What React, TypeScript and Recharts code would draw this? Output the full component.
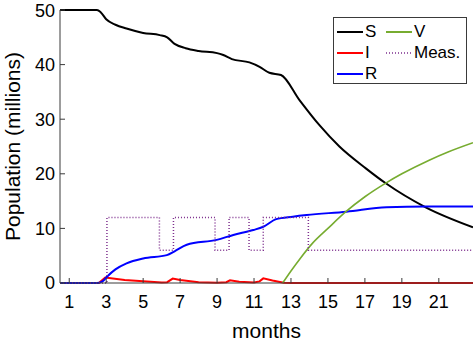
import { LineChart, Line, XAxis, YAxis, Legend } from 'recharts';

const monthTicks = [1, 3, 5, 7, 9, 11, 13, 15, 17, 19, 21];
const popTicks = [0, 10, 20, 30, 40, 50];

const sMonths = [0.5, 2.5, 2.7, 3.0, 3.5, 4.1, 5.0, 5.9, 6.3, 6.7, 7.3, 8.0, 9.0, 9.3, 9.8, 10.75, 11.3, 11.83, 12.46, 13.46, 14.54, 15.62, 17.05, 18.13, 20.29, 22.85];
const sValues = [50, 50, 49.6, 48.3, 47.3, 46.6, 45.8, 45.4, 45.0, 43.8, 43.0, 42.5, 42.1, 41.8, 41.0, 40.4, 39.6, 38.5, 38.1, 33.5, 28.9, 25.0, 21.0, 18.26, 13.86, 10.2];

const iMonths = [0.5, 2.6, 2.95, 4.0, 5.0, 6.0, 6.3, 6.6, 7.0, 8.0, 9.0, 9.5, 9.7, 10.2, 11.0, 11.3, 11.5, 12.0, 12.6, 13.0, 22.85];
const iValues = [0, 0, 1.0, 0.55, 0.3, 0.1, 0.15, 0.8, 0.55, 0.15, 0.05, 0.15, 0.5, 0.25, 0.1, 0.3, 0.85, 0.45, 0.05, 0, 0];

const rMonths = [0.5, 2.5, 2.8, 3.04, 3.5, 4.1, 5.0, 6.28, 6.7, 7.36, 8.98, 9.88, 10.96, 11.5, 12.2, 13.1, 13.85, 16, 18.17, 20.33, 22.85];
const rValues = [0, 0, 0.3, 1.15, 2.5, 3.6, 4.5, 5.1, 5.8, 7.0, 7.9, 8.8, 9.7, 10.3, 11.7, 12.15, 12.45, 13.06, 13.86, 14.0, 14.0];

const vMonths = [12.55, 13, 13.5, 14.17, 15, 15.97, 17, 18.13, 19, 20.48, 21.5, 22.85];
const vValues = [0, 2.2, 4.5, 7.3, 10.0, 13.06, 15.8, 18.3, 20.0, 22.5, 24.0, 25.7];

const measMonths = [0.5, 3.04, 5.88, 6.64, 8.89, 9.65, 10.73, 11.5, 13.94, 22.85];
const measValues = [0, 12, 6, 12, 6, 12, 6, 12, 6, 6];

const toPoints = (months: number[], values: number[]) =>
  months.map((month, i) => ({ month, value: values[i] }));

const FONT = '"Liberation Sans", Arial, Helvetica, sans-serif';
const AXIS = '#3a3a3a';

const legendItems = [
  { label: 'S', color: '#000000', dash: undefined },
  { label: 'V', color: '#77AC30', dash: undefined },
  { label: 'I', color: '#FF0000', dash: undefined },
  { label: 'Meas.', color: '#7E2F8E', dash: '1 2' },
  { label: 'R', color: '#0000FF', dash: undefined },
];

const LegendBox = () => (
  <div
    style={{
      boxSizing: 'border-box',
      width: 134,
      height: 67,
      border: `1px solid ${AXIS}`,
      background: '#fff',
      display: 'grid',
      gridTemplateColumns: '49px auto',
      gridAutoRows: '21px',
      padding: '3px 0 0 3px',
      fontFamily: FONT,
      fontSize: 17,
      color: '#000',
    }}
  >
    {legendItems.map((item) => (
      <div key={item.label} style={{ display: 'flex', alignItems: 'center' }}>
        <svg width={26} height={4} style={{ marginRight: 2 }}>
          <line x1={0} y1={2} x2={26} y2={2} stroke={item.color} strokeWidth={item.dash ? 1.5 : 2} strokeDasharray={item.dash} />
        </svg>
        <span>{item.label}</span>
      </div>
    ))}
  </div>
);

export default function App() {
  return (
    <div style={{ position: 'absolute', left: 0, top: 0, background: '#fff' }}>
      <LineChart width={474} height={341} margin={{ top: 10, right: 1, bottom: 0, left: 0 }}>
        <XAxis
          xAxisId="bottom"
          type="number"
          dataKey="month"
          domain={[0.5, 22.85]}
          ticks={monthTicks}
          allowDataOverflow
          height={58}
          stroke={AXIS}
          tickSize={-5}
          tickMargin={17}
          tick={{ fill: '#000', fontSize: 18, fontFamily: FONT }}
          label={{ value: 'months', position: 'insideBottom', offset: 3, style: { fill: '#000', fontSize: 21, fontFamily: FONT } }}
        />
        <XAxis
          xAxisId="top"
          orientation="top"
          type="number"
          dataKey="month"
          domain={[0.5, 22.85]}
          ticks={monthTicks}
          allowDataOverflow
          height={0}
          stroke={AXIS}
          tickSize={-5}
          tickFormatter={() => ''}
        />
        <YAxis
          yAxisId="left"
          type="number"
          domain={[0, 50]}
          ticks={popTicks}
          width={60}
          stroke={AXIS}
          tickSize={-5}
          tickMargin={10}
          tick={{ fill: '#000', fontSize: 18, fontFamily: FONT }}
          label={{ value: 'Population (millions)', angle: -90, position: 'center', dx: -17, style: { fill: '#000', fontSize: 21, fontFamily: FONT } }}
        />
        <YAxis
          yAxisId="right"
          orientation="right"
          type="number"
          domain={[0, 50]}
          ticks={popTicks}
          width={0}
          stroke={AXIS}
          tickSize={-5}
          tickFormatter={() => ''}
        />
        <Legend
          layout="horizontal"
          align="center"
          verticalAlign="middle"
          wrapperStyle={{ left: 333, top: 17, width: 134 }}
          content={() => <LegendBox />}
        />
        <Line xAxisId="bottom" yAxisId="left" data={toPoints(sMonths, sValues)} dataKey="value" type="monotone" stroke="#000000" strokeWidth={2} dot={false} isAnimationActive={false} />
        <Line xAxisId="bottom" yAxisId="left" data={toPoints(iMonths, iValues)} dataKey="value" type="linear" stroke="#FF0000" strokeWidth={2} dot={false} isAnimationActive={false} />
        <Line xAxisId="bottom" yAxisId="left" data={toPoints(rMonths, rValues)} dataKey="value" type="monotone" stroke="#0000FF" strokeWidth={2} dot={false} isAnimationActive={false} />
        <Line xAxisId="bottom" yAxisId="left" data={toPoints(vMonths, vValues)} dataKey="value" type="monotone" stroke="#77AC30" strokeWidth={1.6} dot={false} isAnimationActive={false} />
        <Line xAxisId="bottom" yAxisId="left" data={toPoints(measMonths, measValues)} dataKey="value" type="stepAfter" stroke="#7E2F8E" strokeWidth={1.5} strokeDasharray="1 2" dot={false} isAnimationActive={false} />
      </LineChart>
    </div>
  );
}
